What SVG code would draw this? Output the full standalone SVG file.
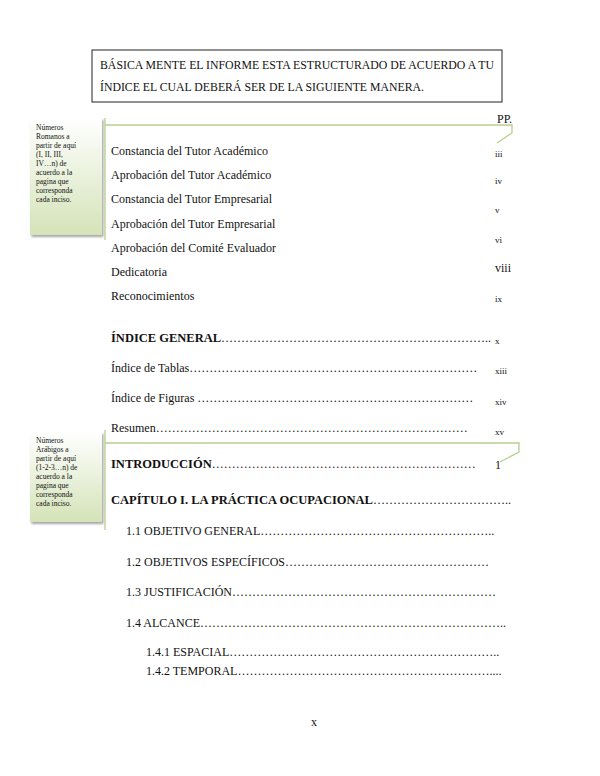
<svg xmlns="http://www.w3.org/2000/svg" width="600" height="776" viewBox="0 0 600 776">
<defs>
<linearGradient id="g" x1="0" y1="0" x2="0" y2="1"><stop offset="0" stop-color="#ffffff"/><stop offset="1" stop-color="#d4e3b8"/></linearGradient>
<filter id="sh" x="-10%" y="-10%" width="130%" height="130%"><feDropShadow dx="1.5" dy="2" stdDeviation="1.2" flood-color="#000" flood-opacity="0.35"/></filter>
</defs>
<style>
text{font-family:"Liberation Serif","Times New Roman",serif;fill:#111}
.t{font-size:12px}
.s{font-size:9px}
.c{font-size:7.5px}
.b{font-size:12.5px;font-weight:bold}
.ln{fill:none;stroke:#b7d08f;stroke-width:1.3}
</style>
<rect width="600" height="776" fill="#fff"/>
<g id="header">
<rect x="92" y="50" width="410" height="52" fill="#fff" stroke="#222" stroke-width="1"/>
<text class="t" x="100" y="69" textLength="394" lengthAdjust="spacingAndGlyphs">BÁSICA MENTE EL INFORME ESTA ESTRUCTURADO DE ACUERDO A TU</text>
<text class="t" x="100" y="91" textLength="324" lengthAdjust="spacingAndGlyphs">ÍNDICE EL CUAL DEBERÁ SER DE LA SIGUIENTE MANERA.</text>
</g>
<g id="callout1">
<rect x="30" y="118" width="72" height="117" fill="url(#g)" filter="url(#sh)"/>
<path class="ln" d="M105 118V240M105 125H512V133L497 143"/>
<text class="c" x="36" y="130">Números</text>
<text class="c" x="36" y="139">Romanos a</text>
<text class="c" x="36" y="148">partir de aquí</text>
<text class="c" x="36" y="157">(I, II, III,</text>
<text class="c" x="36" y="166">IV…n) de</text>
<text class="c" x="36" y="175">acuerdo a la</text>
<text class="c" x="36" y="184">pagina que</text>
<text class="c" x="36" y="193">corresponda</text>
<text class="c" x="36" y="202">cada inciso.</text>
</g>
<g id="callout2">
<rect x="30" y="432" width="72" height="90" fill="url(#g)" filter="url(#sh)"/>
<path class="ln" d="M105 430V530M105 443H519V452L500 462"/>
<text class="c" x="36" y="443">Números</text>
<text class="c" x="36" y="452">Arábigos a</text>
<text class="c" x="36" y="461">partir de aquí</text>
<text class="c" x="36" y="470">(1-2-3…n) de</text>
<text class="c" x="36" y="479">acuerdo a la</text>
<text class="c" x="36" y="488">pagina que</text>
<text class="c" x="36" y="497">corresponda</text>
<text class="c" x="36" y="506">cada inciso.</text>
</g>
<g id="toc">
<text class="t" x="497" y="123">PP.</text>
<text class="t" x="111" y="155">Constancia del Tutor Académico</text><text class="s" x="495" y="157">iii</text>
<text class="t" x="111" y="179">Aprobación del Tutor Académico</text><text class="s" x="495" y="184">iv</text>
<text class="t" x="111" y="203">Constancia del Tutor Empresarial</text><text class="s" x="495" y="213">v</text>
<text class="t" x="111" y="228">Aprobación del Tutor Empresarial</text><text class="s" x="495" y="243">vi</text>
<text class="t" x="111" y="252">Aprobación del Comité Evaluador</text><text class="t" x="495" y="272">viii</text>
<text class="t" x="111" y="276">Dedicatoria</text><text class="s" x="495" y="302">ix</text>
<text class="t" x="111" y="300">Reconocimientos</text>
<text class="b" x="111" y="342">ÍNDICE GENERAL<tspan font-weight="normal" font-size="12">…………………………………………………………..</tspan></text><text class="s" x="495" y="344">x</text>
<text class="t" x="111" y="372">Índice de Tablas………………………………………………………………</text><text class="s" x="495" y="374">xiii</text>
<text class="t" x="111" y="402">Índice de Figuras ……………………………………………………………</text><text class="s" x="495" y="405">xiv</text>
<text class="t" x="111" y="432">Resumen……………………………………………………………………</text><text class="s" x="495" y="435">xv</text>
<text class="b" x="111" y="468">INTRODUCCIÓN<tspan font-weight="normal" font-size="12">…………………………………………………………</tspan></text><text class="t" x="495" y="469">1</text>
<text class="b" x="111" y="504">CAPÍTULO I. LA PRÁCTICA OCUPACIONAL<tspan font-weight="normal" font-size="12">……………………………..</tspan></text>
<text class="t" x="126" y="535">1.1 OBJETIVO GENERAL…………………………………………………..</text>
<text class="t" x="126" y="566">1.2 OBJETIVOS ESPECÍFICOS……………………………………………</text>
<text class="t" x="126" y="596">1.3 JUSTIFICACIÓN…………………………………………………………</text>
<text class="t" x="126" y="627">1.4 ALCANCE…………………………………………………………………..</text>
<text class="t" x="146" y="656">1.4.1  ESPACIAL…………………………………………………………..</text>
<text class="t" x="146" y="675">1.4.2  TEMPORAL………………………………………………………....</text>
<text class="t" x="311" y="726">x</text>
</g>
</svg>
